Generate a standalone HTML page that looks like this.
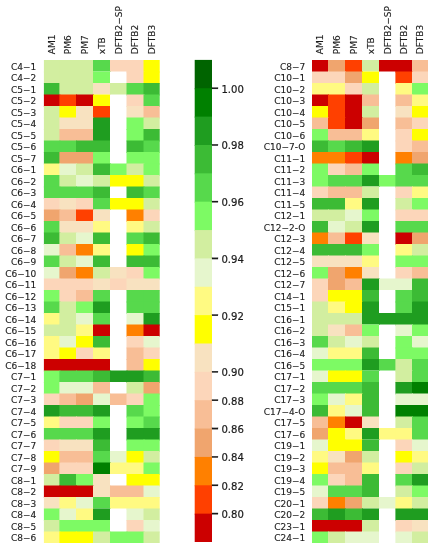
<!DOCTYPE html>
<html><head><meta charset="utf-8"><title>Heatmap</title><style>
html,body{margin:0;padding:0;background:#fff;width:434px;height:550px;overflow:hidden}
svg{display:block}
text{font-family:"DejaVu Sans","Liberation Sans",sans-serif;fill:#1a1a1a}
.t{font-size:9px;stroke:#1a1a1a;stroke-width:0.12px}
.c{font-size:11.2px;stroke:#1a1a1a;stroke-width:0.2px;font-family:"DejaVu Sans Condensed","DejaVu Sans","Liberation Sans",sans-serif;font-stretch:condensed}
</style></head><body>
<svg width="434" height="550" viewBox="0 0 434 550">
<rect width="434" height="550" fill="#fff"/>
<rect x="43.9" y="60" width="16.5" height="12.5" fill="#d2eea0"/><rect x="59.4" y="60" width="17.6" height="12.5" fill="#d2eea0"/><rect x="76" y="60" width="18" height="12.5" fill="#d2eea0"/><rect x="93" y="60" width="18" height="11.5" fill="#57d94c"/><rect x="110" y="60" width="17.5" height="11.5" fill="#fcd6ba"/><rect x="126.5" y="60" width="18" height="12.5" fill="#fcd6ba"/><rect x="143.5" y="60" width="16.2" height="12.5" fill="#ffff00"/><rect x="43.9" y="71.5" width="16.5" height="12.5" fill="#d2eea0"/><rect x="59.4" y="71.5" width="17.6" height="12.5" fill="#d2eea0"/><rect x="76" y="71.5" width="18" height="12.5" fill="#d2eea0"/><rect x="93" y="71.5" width="17" height="12.5" fill="#7dfa64"/><rect x="126.5" y="71.5" width="18" height="12.5" fill="#fcd6ba"/><rect x="143.5" y="71.5" width="16.2" height="12.5" fill="#ffff00"/><rect x="43.9" y="83" width="16.5" height="12.5" fill="#3cbb35"/><rect x="59.4" y="83" width="17.6" height="12.5" fill="#d2eea0"/><rect x="76" y="83" width="18" height="12.5" fill="#d2eea0"/><rect x="93" y="83" width="18" height="11.5" fill="#f8e2c0"/><rect x="110" y="83" width="17.5" height="11.5" fill="#d2eea0"/><rect x="126.5" y="83" width="18" height="12.5" fill="#57d94c"/><rect x="143.5" y="83" width="16.2" height="12.5" fill="#3cbb35"/><rect x="43.9" y="94.5" width="16.5" height="12.5" fill="#cc0000"/><rect x="59.4" y="94.5" width="17.6" height="12.5" fill="#ff4000"/><rect x="76" y="94.5" width="18" height="12.5" fill="#cc0000"/><rect x="93" y="94.5" width="17" height="12.5" fill="#ffff00"/><rect x="126.5" y="94.5" width="18" height="12.5" fill="#fcd6ba"/><rect x="143.5" y="94.5" width="16.2" height="12.5" fill="#57d94c"/><rect x="43.9" y="106" width="16.5" height="12.5" fill="#d2eea0"/><rect x="59.4" y="106" width="17.6" height="12.5" fill="#ffff00"/><rect x="76" y="106" width="18" height="12.5" fill="#f8e2c0"/><rect x="93" y="106" width="17" height="12.5" fill="#ff4000"/><rect x="126.5" y="106" width="18" height="12.5" fill="#f8e2c0"/><rect x="143.5" y="106" width="16.2" height="12.5" fill="#f8be96"/><rect x="43.9" y="117.5" width="16.5" height="12.5" fill="#d2eea0"/><rect x="59.4" y="117.5" width="17.6" height="12.5" fill="#f8e2c0"/><rect x="76" y="117.5" width="18" height="12.5" fill="#f8e2c0"/><rect x="93" y="117.5" width="17" height="12.5" fill="#1f9d20"/><rect x="126.5" y="117.5" width="18" height="12.5" fill="#7dfa64"/><rect x="143.5" y="117.5" width="16.2" height="12.5" fill="#d2eea0"/><rect x="43.9" y="129" width="16.5" height="12.5" fill="#d2eea0"/><rect x="59.4" y="129" width="17.6" height="12.5" fill="#f8be96"/><rect x="76" y="129" width="18" height="12.5" fill="#f8be96"/><rect x="93" y="129" width="17" height="12.5" fill="#1f9d20"/><rect x="126.5" y="129" width="18" height="12.5" fill="#7dfa64"/><rect x="143.5" y="129" width="16.2" height="12.5" fill="#3cbb35"/><rect x="43.9" y="140.5" width="16.5" height="12.5" fill="#57d94c"/><rect x="59.4" y="140.5" width="17.6" height="12.5" fill="#57d94c"/><rect x="76" y="140.5" width="18" height="12.5" fill="#3cbb35"/><rect x="93" y="140.5" width="17" height="12.5" fill="#3cbb35"/><rect x="126.5" y="140.5" width="18" height="12.5" fill="#3cbb35"/><rect x="143.5" y="140.5" width="16.2" height="12.5" fill="#57d94c"/><rect x="43.9" y="152" width="16.5" height="12.5" fill="#3cbb35"/><rect x="59.4" y="152" width="17.6" height="12.5" fill="#f0a56e"/><rect x="76" y="152" width="18" height="12.5" fill="#f0a56e"/><rect x="93" y="152" width="17" height="12.5" fill="#7dfa64"/><rect x="126.5" y="152" width="18" height="12.5" fill="#7dfa64"/><rect x="143.5" y="152" width="16.2" height="12.5" fill="#7dfa64"/><rect x="43.9" y="163.5" width="16.5" height="12.5" fill="#fffa82"/><rect x="59.4" y="163.5" width="17.6" height="12.5" fill="#e6f6cd"/><rect x="76" y="163.5" width="18" height="12.5" fill="#d2eea0"/><rect x="93" y="163.5" width="18" height="12.5" fill="#3cbb35"/><rect x="110" y="163.5" width="17.5" height="12.5" fill="#7dfa64"/><rect x="126.5" y="163.5" width="18" height="12.5" fill="#d2eea0"/><rect x="143.5" y="163.5" width="16.2" height="12.5" fill="#7dfa64"/><rect x="43.9" y="175" width="16.5" height="12.5" fill="#57d94c"/><rect x="59.4" y="175" width="17.6" height="12.5" fill="#d2eea0"/><rect x="76" y="175" width="18" height="12.5" fill="#e6f6cd"/><rect x="93" y="175" width="18" height="11.5" fill="#d2eea0"/><rect x="110" y="175" width="17.5" height="11.5" fill="#ffff00"/><rect x="126.5" y="175" width="18" height="12.5" fill="#ffff00"/><rect x="143.5" y="175" width="16.2" height="12.5" fill="#d2eea0"/><rect x="43.9" y="186.5" width="16.5" height="12.5" fill="#57d94c"/><rect x="59.4" y="186.5" width="17.6" height="12.5" fill="#57d94c"/><rect x="76" y="186.5" width="18" height="12.5" fill="#57d94c"/><rect x="93" y="186.5" width="17" height="12.5" fill="#3cbb35"/><rect x="126.5" y="186.5" width="18" height="12.5" fill="#3cbb35"/><rect x="143.5" y="186.5" width="16.2" height="12.5" fill="#57d94c"/><rect x="43.9" y="198" width="16.5" height="12.5" fill="#fcd6ba"/><rect x="59.4" y="198" width="17.6" height="12.5" fill="#f8e2c0"/><rect x="76" y="198" width="18" height="12.5" fill="#fcd6ba"/><rect x="93" y="198" width="18" height="11.5" fill="#57d94c"/><rect x="110" y="198" width="17.5" height="11.5" fill="#ffff00"/><rect x="126.5" y="198" width="18" height="12.5" fill="#ffff00"/><rect x="143.5" y="198" width="16.2" height="12.5" fill="#d2eea0"/><rect x="43.9" y="209.5" width="16.5" height="12.5" fill="#f0a56e"/><rect x="59.4" y="209.5" width="17.6" height="12.5" fill="#f8be96"/><rect x="76" y="209.5" width="18" height="12.5" fill="#ff4000"/><rect x="93" y="209.5" width="17" height="12.5" fill="#f8e2c0"/><rect x="126.5" y="209.5" width="18" height="12.5" fill="#ff8000"/><rect x="143.5" y="209.5" width="16.2" height="12.5" fill="#fcd6ba"/><rect x="43.9" y="221" width="16.5" height="12.5" fill="#57d94c"/><rect x="59.4" y="221" width="17.6" height="12.5" fill="#f8e2c0"/><rect x="76" y="221" width="18" height="12.5" fill="#f8e2c0"/><rect x="93" y="221" width="17" height="12.5" fill="#fffa82"/><rect x="126.5" y="221" width="18" height="12.5" fill="#fffa82"/><rect x="143.5" y="221" width="16.2" height="12.5" fill="#d2eea0"/><rect x="43.9" y="232.5" width="16.5" height="12.5" fill="#3cbb35"/><rect x="59.4" y="232.5" width="17.6" height="12.5" fill="#d2eea0"/><rect x="76" y="232.5" width="18" height="12.5" fill="#e6f6cd"/><rect x="93" y="232.5" width="17" height="12.5" fill="#3cbb35"/><rect x="126.5" y="232.5" width="18" height="12.5" fill="#57d94c"/><rect x="143.5" y="232.5" width="16.2" height="12.5" fill="#3cbb35"/><rect x="43.9" y="244" width="16.5" height="12.5" fill="#e6f6cd"/><rect x="59.4" y="244" width="17.6" height="12.5" fill="#f8be96"/><rect x="76" y="244" width="18" height="12.5" fill="#ff8000"/><rect x="93" y="244" width="17" height="12.5" fill="#fffa82"/><rect x="126.5" y="244" width="18" height="12.5" fill="#ffff00"/><rect x="143.5" y="244" width="16.2" height="12.5" fill="#7dfa64"/><rect x="43.9" y="255.5" width="16.5" height="12.5" fill="#57d94c"/><rect x="59.4" y="255.5" width="17.6" height="12.5" fill="#d2eea0"/><rect x="76" y="255.5" width="18" height="12.5" fill="#e6f6cd"/><rect x="93" y="255.5" width="17" height="12.5" fill="#3cbb35"/><rect x="126.5" y="255.5" width="18" height="12.5" fill="#3cbb35"/><rect x="143.5" y="255.5" width="16.2" height="12.5" fill="#3cbb35"/><rect x="43.9" y="267" width="16.5" height="12.5" fill="#e6f6cd"/><rect x="59.4" y="267" width="17.6" height="12.5" fill="#f0a56e"/><rect x="76" y="267" width="18" height="12.5" fill="#ff8000"/><rect x="93" y="267" width="18" height="12.5" fill="#d2eea0"/><rect x="110" y="267" width="17.5" height="12.5" fill="#f8e2c0"/><rect x="126.5" y="267" width="18" height="12.5" fill="#fcd6ba"/><rect x="143.5" y="267" width="16.2" height="12.5" fill="#7dfa64"/><rect x="43.9" y="278.5" width="16.5" height="12.5" fill="#fcd6ba"/><rect x="59.4" y="278.5" width="17.6" height="12.5" fill="#fcd6ba"/><rect x="76" y="278.5" width="18" height="12.5" fill="#fcd6ba"/><rect x="93" y="278.5" width="18" height="11.5" fill="#f8e2c0"/><rect x="110" y="278.5" width="17.5" height="11.5" fill="#fcd6ba"/><rect x="126.5" y="278.5" width="18" height="12.5" fill="#f8e2c0"/><rect x="143.5" y="278.5" width="16.2" height="12.5" fill="#f8e2c0"/><rect x="43.9" y="290" width="16.5" height="12.5" fill="#7dfa64"/><rect x="59.4" y="290" width="17.6" height="12.5" fill="#fcd6ba"/><rect x="76" y="290" width="18" height="12.5" fill="#f8be96"/><rect x="93" y="290" width="17" height="12.5" fill="#57d94c"/><rect x="126.5" y="290" width="18" height="12.5" fill="#57d94c"/><rect x="143.5" y="290" width="16.2" height="12.5" fill="#57d94c"/><rect x="43.9" y="301.5" width="16.5" height="12.5" fill="#57d94c"/><rect x="59.4" y="301.5" width="17.6" height="12.5" fill="#d2eea0"/><rect x="76" y="301.5" width="18" height="12.5" fill="#7dfa64"/><rect x="93" y="301.5" width="17" height="12.5" fill="#1f9d20"/><rect x="126.5" y="301.5" width="18" height="12.5" fill="#57d94c"/><rect x="143.5" y="301.5" width="16.2" height="12.5" fill="#57d94c"/><rect x="43.9" y="313" width="16.5" height="12.5" fill="#fffa82"/><rect x="59.4" y="313" width="17.6" height="12.5" fill="#d2eea0"/><rect x="76" y="313" width="18" height="12.5" fill="#e6f6cd"/><rect x="93" y="313" width="17" height="12.5" fill="#57d94c"/><rect x="126.5" y="313" width="18" height="12.5" fill="#e6f6cd"/><rect x="143.5" y="313" width="16.2" height="12.5" fill="#1f9d20"/><rect x="43.9" y="324.5" width="16.5" height="12.5" fill="#d2eea0"/><rect x="59.4" y="324.5" width="17.6" height="12.5" fill="#d2eea0"/><rect x="76" y="324.5" width="18" height="12.5" fill="#fffa82"/><rect x="93" y="324.5" width="17" height="12.5" fill="#cc0000"/><rect x="126.5" y="324.5" width="18" height="12.5" fill="#ff8000"/><rect x="143.5" y="324.5" width="16.2" height="12.5" fill="#cc0000"/><rect x="43.9" y="336" width="16.5" height="12.5" fill="#fffa82"/><rect x="59.4" y="336" width="17.6" height="12.5" fill="#e6f6cd"/><rect x="76" y="336" width="18" height="12.5" fill="#ffff00"/><rect x="93" y="336" width="17" height="12.5" fill="#3cbb35"/><rect x="126.5" y="336" width="18" height="12.5" fill="#fcd6ba"/><rect x="143.5" y="336" width="16.2" height="12.5" fill="#e6f6cd"/><rect x="43.9" y="347.5" width="16.5" height="12.5" fill="#fffa82"/><rect x="59.4" y="347.5" width="17.6" height="12.5" fill="#ffff00"/><rect x="76" y="347.5" width="18" height="12.5" fill="#fcd6ba"/><rect x="93" y="347.5" width="17" height="12.5" fill="#fffa82"/><rect x="126.5" y="347.5" width="18" height="12.5" fill="#f8be96"/><rect x="143.5" y="347.5" width="16.2" height="12.5" fill="#fcd6ba"/><rect x="43.9" y="359" width="16.5" height="12.5" fill="#cc0000"/><rect x="59.4" y="359" width="17.6" height="12.5" fill="#cc0000"/><rect x="76" y="359" width="18" height="12.5" fill="#cc0000"/><rect x="93" y="359" width="17" height="12.5" fill="#cc0000"/><rect x="126.5" y="359" width="18" height="12.5" fill="#f8be96"/><rect x="143.5" y="359" width="16.2" height="12.5" fill="#ffff00"/><rect x="43.9" y="370.5" width="16.5" height="12.5" fill="#7dfa64"/><rect x="59.4" y="370.5" width="17.6" height="12.5" fill="#57d94c"/><rect x="76" y="370.5" width="18" height="12.5" fill="#57d94c"/><rect x="93" y="370.5" width="18" height="11.5" fill="#3cbb35"/><rect x="110" y="370.5" width="17.5" height="11.5" fill="#1f9d20"/><rect x="126.5" y="370.5" width="18" height="12.5" fill="#1f9d20"/><rect x="143.5" y="370.5" width="16.2" height="12.5" fill="#3cbb35"/><rect x="43.9" y="382" width="16.5" height="12.5" fill="#7dfa64"/><rect x="59.4" y="382" width="17.6" height="12.5" fill="#e6f6cd"/><rect x="76" y="382" width="18" height="12.5" fill="#e6f6cd"/><rect x="93" y="382" width="17" height="12.5" fill="#f8be96"/><rect x="126.5" y="382" width="18" height="12.5" fill="#d2eea0"/><rect x="143.5" y="382" width="16.2" height="12.5" fill="#f0a56e"/><rect x="43.9" y="393.5" width="16.5" height="12.5" fill="#fcd6ba"/><rect x="59.4" y="393.5" width="17.6" height="12.5" fill="#f8be96"/><rect x="76" y="393.5" width="18" height="12.5" fill="#f0a56e"/><rect x="93" y="393.5" width="18" height="11.5" fill="#e6f6cd"/><rect x="110" y="393.5" width="17.5" height="11.5" fill="#f8be96"/><rect x="126.5" y="393.5" width="18" height="12.5" fill="#fcd6ba"/><rect x="143.5" y="393.5" width="16.2" height="12.5" fill="#7dfa64"/><rect x="43.9" y="405" width="16.5" height="12.5" fill="#1f9d20"/><rect x="59.4" y="405" width="17.6" height="12.5" fill="#3cbb35"/><rect x="76" y="405" width="18" height="12.5" fill="#3cbb35"/><rect x="93" y="405" width="17" height="12.5" fill="#1f9d20"/><rect x="126.5" y="405" width="18" height="12.5" fill="#57d94c"/><rect x="143.5" y="405" width="16.2" height="12.5" fill="#7dfa64"/><rect x="43.9" y="416.5" width="16.5" height="12.5" fill="#fffa82"/><rect x="59.4" y="416.5" width="17.6" height="12.5" fill="#fcd6ba"/><rect x="76" y="416.5" width="18" height="12.5" fill="#fcd6ba"/><rect x="93" y="416.5" width="17" height="12.5" fill="#7dfa64"/><rect x="126.5" y="416.5" width="18" height="12.5" fill="#7dfa64"/><rect x="143.5" y="416.5" width="16.2" height="12.5" fill="#57d94c"/><rect x="43.9" y="428" width="16.5" height="12.5" fill="#57d94c"/><rect x="59.4" y="428" width="17.6" height="12.5" fill="#57d94c"/><rect x="76" y="428" width="18" height="12.5" fill="#57d94c"/><rect x="93" y="428" width="17" height="12.5" fill="#1f9d20"/><rect x="126.5" y="428" width="18" height="12.5" fill="#1f9d20"/><rect x="143.5" y="428" width="16.2" height="12.5" fill="#1f9d20"/><rect x="43.9" y="439.5" width="16.5" height="12.5" fill="#fcd6ba"/><rect x="59.4" y="439.5" width="17.6" height="12.5" fill="#f8e2c0"/><rect x="76" y="439.5" width="18" height="12.5" fill="#f8e2c0"/><rect x="93" y="439.5" width="17" height="12.5" fill="#3cbb35"/><rect x="126.5" y="439.5" width="18" height="12.5" fill="#7dfa64"/><rect x="143.5" y="439.5" width="16.2" height="12.5" fill="#7dfa64"/><rect x="43.9" y="451" width="16.5" height="12.5" fill="#ffff00"/><rect x="59.4" y="451" width="17.6" height="12.5" fill="#f8be96"/><rect x="76" y="451" width="18" height="12.5" fill="#f8be96"/><rect x="93" y="451" width="18" height="12.5" fill="#57d94c"/><rect x="110" y="451" width="17.5" height="12.5" fill="#e6f6cd"/><rect x="126.5" y="451" width="18" height="12.5" fill="#ffff00"/><rect x="143.5" y="451" width="16.2" height="12.5" fill="#d2eea0"/><rect x="43.9" y="462.5" width="16.5" height="12.5" fill="#f0a56e"/><rect x="59.4" y="462.5" width="17.6" height="12.5" fill="#fcd6ba"/><rect x="76" y="462.5" width="18" height="12.5" fill="#fcd6ba"/><rect x="93" y="462.5" width="18" height="11.5" fill="#008000"/><rect x="110" y="462.5" width="17.5" height="11.5" fill="#fffa82"/><rect x="126.5" y="462.5" width="18" height="12.5" fill="#fffa82"/><rect x="143.5" y="462.5" width="16.2" height="12.5" fill="#7dfa64"/><rect x="43.9" y="474" width="16.5" height="12.5" fill="#d2eea0"/><rect x="59.4" y="474" width="17.6" height="12.5" fill="#3cbb35"/><rect x="76" y="474" width="18" height="12.5" fill="#7dfa64"/><rect x="93" y="474" width="17" height="12.5" fill="#f8e2c0"/><rect x="126.5" y="474" width="18" height="12.5" fill="#ffff00"/><rect x="143.5" y="474" width="16.2" height="12.5" fill="#ffff00"/><rect x="43.9" y="485.5" width="16.5" height="12.5" fill="#cc0000"/><rect x="59.4" y="485.5" width="17.6" height="12.5" fill="#cc0000"/><rect x="76" y="485.5" width="18" height="12.5" fill="#cc0000"/><rect x="93" y="485.5" width="18" height="12.5" fill="#f8e2c0"/><rect x="110" y="485.5" width="17.5" height="12.5" fill="#f8be96"/><rect x="126.5" y="485.5" width="18" height="12.5" fill="#f8be96"/><rect x="143.5" y="485.5" width="16.2" height="12.5" fill="#e6f6cd"/><rect x="43.9" y="497" width="16.5" height="12.5" fill="#f8e2c0"/><rect x="59.4" y="497" width="17.6" height="12.5" fill="#fffa82"/><rect x="76" y="497" width="18" height="12.5" fill="#e6f6cd"/><rect x="93" y="497" width="18" height="11.5" fill="#57d94c"/><rect x="110" y="497" width="17.5" height="11.5" fill="#fffa82"/><rect x="126.5" y="497" width="18" height="12.5" fill="#fffa82"/><rect x="143.5" y="497" width="16.2" height="12.5" fill="#fffa82"/><rect x="43.9" y="508.5" width="16.5" height="12.5" fill="#7dfa64"/><rect x="59.4" y="508.5" width="17.6" height="12.5" fill="#e6f6cd"/><rect x="76" y="508.5" width="18" height="12.5" fill="#fffa82"/><rect x="93" y="508.5" width="17" height="12.5" fill="#1f9d20"/><rect x="126.5" y="508.5" width="18" height="12.5" fill="#e6f6cd"/><rect x="143.5" y="508.5" width="16.2" height="12.5" fill="#d2eea0"/><rect x="43.9" y="520" width="16.5" height="12.5" fill="#d2eea0"/><rect x="59.4" y="520" width="17.6" height="12.5" fill="#7dfa64"/><rect x="76" y="520" width="18" height="12.5" fill="#7dfa64"/><rect x="93" y="520" width="17" height="12.5" fill="#7dfa64"/><rect x="126.5" y="520" width="18" height="12.5" fill="#fcd6ba"/><rect x="143.5" y="520" width="16.2" height="12.5" fill="#e6f6cd"/><rect x="43.9" y="531.5" width="16.5" height="11.5" fill="#fffa82"/><rect x="59.4" y="531.5" width="17.6" height="11.5" fill="#ffff00"/><rect x="76" y="531.5" width="18" height="11.5" fill="#ffff00"/><rect x="93" y="531.5" width="18" height="11.5" fill="#d2eea0"/><rect x="110" y="531.5" width="17.5" height="11.5" fill="#7dfa64"/><rect x="126.5" y="531.5" width="18" height="11.5" fill="#7dfa64"/><rect x="143.5" y="531.5" width="16.2" height="11.5" fill="#d2eea0"/>
<g class="t" text-anchor="end"><text x="36.2" y="69.75">C4−1</text><text x="36.2" y="81.25">C4−2</text><text x="36.2" y="92.75">C5−1</text><text x="36.2" y="104.25">C5−2</text><text x="36.2" y="115.75">C5−3</text><text x="36.2" y="127.25">C5−4</text><text x="36.2" y="138.75">C5−5</text><text x="36.2" y="150.25">C5−6</text><text x="36.2" y="161.75">C5−7</text><text x="36.2" y="173.25">C6−1</text><text x="36.2" y="184.75">C6−2</text><text x="36.2" y="196.25">C6−3</text><text x="36.2" y="207.75">C6−4</text><text x="36.2" y="219.25">C6−5</text><text x="36.2" y="230.75">C6−6</text><text x="36.2" y="242.25">C6−7</text><text x="36.2" y="253.75">C6−8</text><text x="36.2" y="265.25">C6−9</text><text x="36.2" y="276.75">C6−10</text><text x="36.2" y="288.25">C6−11</text><text x="36.2" y="299.75">C6−12</text><text x="36.2" y="311.25">C6−13</text><text x="36.2" y="322.75">C6−14</text><text x="36.2" y="334.25">C6−15</text><text x="36.2" y="345.75">C6−16</text><text x="36.2" y="357.25">C6−17</text><text x="36.2" y="368.75">C6−18</text><text x="36.2" y="380.25">C7−1</text><text x="36.2" y="391.75">C7−2</text><text x="36.2" y="403.25">C7−3</text><text x="36.2" y="414.75">C7−4</text><text x="36.2" y="426.25">C7−5</text><text x="36.2" y="437.75">C7−6</text><text x="36.2" y="449.25">C7−7</text><text x="36.2" y="460.75">C7−8</text><text x="36.2" y="472.25">C7−9</text><text x="36.2" y="483.75">C8−1</text><text x="36.2" y="495.25">C8−2</text><text x="36.2" y="506.75">C8−3</text><text x="36.2" y="518.25">C8−4</text><text x="36.2" y="529.75">C8−5</text><text x="36.2" y="541.25">C8−6</text></g>
<g class="t"><text transform="translate(54.95 54.2) rotate(-90)">AM1</text><text transform="translate(71 54.2) rotate(-90)">PM6</text><text transform="translate(87.8 54.2) rotate(-90)">PM7</text><text transform="translate(104.8 54.2) rotate(-90)">xTB</text><text transform="translate(121.55 54.2) rotate(-90)">DFTB2−SP</text><text transform="translate(138.3 54.2) rotate(-90)">DFTB2</text><text transform="translate(154.9 54.2) rotate(-90)">DFTB3</text></g>
<rect x="312" y="60" width="17" height="12.5" fill="#cc0000"/><rect x="328" y="60" width="18" height="12.5" fill="#f0a56e"/><rect x="345" y="60" width="18" height="12.5" fill="#ff4000"/><rect x="362" y="60" width="18" height="11.5" fill="#d2eea0"/><rect x="379" y="60" width="17.4" height="11.5" fill="#cc0000"/><rect x="395.4" y="60" width="17.6" height="12.5" fill="#cc0000"/><rect x="412" y="60" width="16" height="12.5" fill="#f8be96"/><rect x="312" y="71.5" width="17" height="12.5" fill="#fcd6ba"/><rect x="328" y="71.5" width="18" height="12.5" fill="#fcd6ba"/><rect x="345" y="71.5" width="18" height="12.5" fill="#f0a56e"/><rect x="362" y="71.5" width="17" height="12.5" fill="#ffff00"/><rect x="395.4" y="71.5" width="17.6" height="12.5" fill="#ff4000"/><rect x="412" y="71.5" width="16" height="12.5" fill="#fcd6ba"/><rect x="312" y="83" width="17" height="12.5" fill="#fffa82"/><rect x="328" y="83" width="18" height="12.5" fill="#fffa82"/><rect x="345" y="83" width="18" height="12.5" fill="#fcd6ba"/><rect x="362" y="83" width="17" height="12.5" fill="#d2eea0"/><rect x="395.4" y="83" width="17.6" height="12.5" fill="#fffa82"/><rect x="412" y="83" width="16" height="12.5" fill="#7dfa64"/><rect x="312" y="94.5" width="17" height="12.5" fill="#cc0000"/><rect x="328" y="94.5" width="18" height="12.5" fill="#ff4000"/><rect x="345" y="94.5" width="18" height="12.5" fill="#cc0000"/><rect x="362" y="94.5" width="17" height="12.5" fill="#f8be96"/><rect x="395.4" y="94.5" width="17.6" height="12.5" fill="#f8be96"/><rect x="412" y="94.5" width="16" height="12.5" fill="#fffa82"/><rect x="312" y="106" width="17" height="12.5" fill="#ffff00"/><rect x="328" y="106" width="18" height="12.5" fill="#ff4000"/><rect x="345" y="106" width="18" height="12.5" fill="#cc0000"/><rect x="362" y="106" width="17" height="12.5" fill="#d2eea0"/><rect x="395.4" y="106" width="17.6" height="12.5" fill="#f8e2c0"/><rect x="412" y="106" width="16" height="12.5" fill="#ffff00"/><rect x="312" y="117.5" width="17" height="12.5" fill="#f8be96"/><rect x="328" y="117.5" width="18" height="12.5" fill="#ff4000"/><rect x="345" y="117.5" width="18" height="12.5" fill="#cc0000"/><rect x="362" y="117.5" width="17" height="12.5" fill="#f0a56e"/><rect x="395.4" y="117.5" width="17.6" height="12.5" fill="#f8be96"/><rect x="412" y="117.5" width="16" height="12.5" fill="#fcd6ba"/><rect x="312" y="129" width="17" height="12.5" fill="#7dfa64"/><rect x="328" y="129" width="18" height="12.5" fill="#f8be96"/><rect x="345" y="129" width="18" height="12.5" fill="#f8be96"/><rect x="362" y="129" width="17" height="12.5" fill="#fffa82"/><rect x="395.4" y="129" width="17.6" height="12.5" fill="#fcd6ba"/><rect x="412" y="129" width="16" height="12.5" fill="#ffff00"/><rect x="312" y="140.5" width="17" height="12.5" fill="#3cbb35"/><rect x="328" y="140.5" width="18" height="12.5" fill="#57d94c"/><rect x="345" y="140.5" width="18" height="12.5" fill="#3cbb35"/><rect x="362" y="140.5" width="17" height="12.5" fill="#1f9d20"/><rect x="395.4" y="140.5" width="17.6" height="12.5" fill="#fcd6ba"/><rect x="412" y="140.5" width="16" height="12.5" fill="#f8be96"/><rect x="312" y="152" width="17" height="12.5" fill="#ff8000"/><rect x="328" y="152" width="18" height="12.5" fill="#ff8000"/><rect x="345" y="152" width="18" height="12.5" fill="#ff4000"/><rect x="362" y="152" width="17" height="12.5" fill="#cc0000"/><rect x="395.4" y="152" width="17.6" height="12.5" fill="#ff8000"/><rect x="412" y="152" width="16" height="12.5" fill="#f0a56e"/><rect x="312" y="163.5" width="17" height="12.5" fill="#7dfa64"/><rect x="328" y="163.5" width="18" height="12.5" fill="#fcd6ba"/><rect x="345" y="163.5" width="18" height="12.5" fill="#f8be96"/><rect x="362" y="163.5" width="17" height="12.5" fill="#7dfa64"/><rect x="395.4" y="163.5" width="17.6" height="12.5" fill="#57d94c"/><rect x="412" y="163.5" width="16" height="12.5" fill="#3cbb35"/><rect x="312" y="175" width="17" height="12.5" fill="#7dfa64"/><rect x="328" y="175" width="18" height="12.5" fill="#57d94c"/><rect x="345" y="175" width="18" height="12.5" fill="#57d94c"/><rect x="362" y="175" width="18" height="11.5" fill="#1f9d20"/><rect x="379" y="175" width="17.4" height="11.5" fill="#7dfa64"/><rect x="395.4" y="175" width="17.6" height="12.5" fill="#57d94c"/><rect x="412" y="175" width="16" height="12.5" fill="#57d94c"/><rect x="312" y="186.5" width="17" height="12.5" fill="#fcd6ba"/><rect x="328" y="186.5" width="18" height="12.5" fill="#f8be96"/><rect x="345" y="186.5" width="18" height="12.5" fill="#f8be96"/><rect x="362" y="186.5" width="17" height="12.5" fill="#d2eea0"/><rect x="395.4" y="186.5" width="17.6" height="12.5" fill="#fcd6ba"/><rect x="412" y="186.5" width="16" height="12.5" fill="#fffa82"/><rect x="312" y="198" width="17" height="12.5" fill="#3cbb35"/><rect x="328" y="198" width="18" height="12.5" fill="#3cbb35"/><rect x="345" y="198" width="18" height="12.5" fill="#fffa82"/><rect x="362" y="198" width="17" height="12.5" fill="#1f9d20"/><rect x="395.4" y="198" width="17.6" height="12.5" fill="#d2eea0"/><rect x="412" y="198" width="16" height="12.5" fill="#7dfa64"/><rect x="312" y="209.5" width="17" height="12.5" fill="#d2eea0"/><rect x="328" y="209.5" width="18" height="12.5" fill="#d2eea0"/><rect x="345" y="209.5" width="18" height="12.5" fill="#e6f6cd"/><rect x="362" y="209.5" width="17" height="12.5" fill="#7dfa64"/><rect x="395.4" y="209.5" width="17.6" height="12.5" fill="#fcd6ba"/><rect x="412" y="209.5" width="16" height="12.5" fill="#fcd6ba"/><rect x="312" y="221" width="17" height="12.5" fill="#3cbb35"/><rect x="328" y="221" width="18" height="12.5" fill="#e6f6cd"/><rect x="345" y="221" width="18" height="12.5" fill="#d2eea0"/><rect x="362" y="221" width="17" height="12.5" fill="#1f9d20"/><rect x="395.4" y="221" width="17.6" height="12.5" fill="#57d94c"/><rect x="412" y="221" width="16" height="12.5" fill="#57d94c"/><rect x="312" y="232.5" width="17" height="12.5" fill="#ff8000"/><rect x="328" y="232.5" width="18" height="12.5" fill="#f8be96"/><rect x="345" y="232.5" width="18" height="12.5" fill="#ff4000"/><rect x="362" y="232.5" width="17" height="12.5" fill="#f8e2c0"/><rect x="395.4" y="232.5" width="17.6" height="12.5" fill="#cc0000"/><rect x="412" y="232.5" width="16" height="12.5" fill="#f0a56e"/><rect x="312" y="244" width="17" height="12.5" fill="#3cbb35"/><rect x="328" y="244" width="18" height="12.5" fill="#3cbb35"/><rect x="345" y="244" width="18" height="12.5" fill="#3cbb35"/><rect x="362" y="244" width="17" height="12.5" fill="#7dfa64"/><rect x="395.4" y="244" width="17.6" height="12.5" fill="#fffa82"/><rect x="412" y="244" width="16" height="12.5" fill="#d2eea0"/><rect x="312" y="255.5" width="17" height="12.5" fill="#f8e2c0"/><rect x="328" y="255.5" width="18" height="12.5" fill="#f8e2c0"/><rect x="345" y="255.5" width="18" height="12.5" fill="#f8e2c0"/><rect x="362" y="255.5" width="17" height="12.5" fill="#fffa82"/><rect x="395.4" y="255.5" width="17.6" height="12.5" fill="#7dfa64"/><rect x="412" y="255.5" width="16" height="12.5" fill="#7dfa64"/><rect x="312" y="267" width="17" height="12.5" fill="#7dfa64"/><rect x="328" y="267" width="18" height="12.5" fill="#f0a56e"/><rect x="345" y="267" width="18" height="12.5" fill="#ff8000"/><rect x="362" y="267" width="17" height="12.5" fill="#f8e2c0"/><rect x="395.4" y="267" width="17.6" height="12.5" fill="#fcd6ba"/><rect x="412" y="267" width="16" height="12.5" fill="#f8be96"/><rect x="312" y="278.5" width="17" height="12.5" fill="#fcd6ba"/><rect x="328" y="278.5" width="18" height="12.5" fill="#f0a56e"/><rect x="345" y="278.5" width="18" height="12.5" fill="#f8be96"/><rect x="362" y="278.5" width="18" height="11.5" fill="#1f9d20"/><rect x="379" y="278.5" width="17.4" height="11.5" fill="#e6f6cd"/><rect x="395.4" y="278.5" width="17.6" height="12.5" fill="#e6f6cd"/><rect x="412" y="278.5" width="16" height="12.5" fill="#3cbb35"/><rect x="312" y="290" width="17" height="12.5" fill="#fcd6ba"/><rect x="328" y="290" width="18" height="12.5" fill="#ffff00"/><rect x="345" y="290" width="18" height="12.5" fill="#ffff00"/><rect x="362" y="290" width="17" height="12.5" fill="#3cbb35"/><rect x="395.4" y="290" width="17.6" height="12.5" fill="#57d94c"/><rect x="412" y="290" width="16" height="12.5" fill="#3cbb35"/><rect x="312" y="301.5" width="17" height="12.5" fill="#d2eea0"/><rect x="328" y="301.5" width="18" height="12.5" fill="#fffa82"/><rect x="345" y="301.5" width="18" height="12.5" fill="#ffff00"/><rect x="362" y="301.5" width="17" height="12.5" fill="#1f9d20"/><rect x="395.4" y="301.5" width="17.6" height="12.5" fill="#57d94c"/><rect x="412" y="301.5" width="16" height="12.5" fill="#1f9d20"/><rect x="312" y="313" width="17" height="12.5" fill="#d2eea0"/><rect x="328" y="313" width="18" height="12.5" fill="#d2eea0"/><rect x="345" y="313" width="18" height="12.5" fill="#d2eea0"/><rect x="362" y="313" width="18" height="11.5" fill="#1f9d20"/><rect x="379" y="313" width="17.4" height="11.5" fill="#1f9d20"/><rect x="395.4" y="313" width="17.6" height="12.5" fill="#1f9d20"/><rect x="412" y="313" width="16" height="12.5" fill="#1f9d20"/><rect x="312" y="324.5" width="17" height="12.5" fill="#d2eea0"/><rect x="328" y="324.5" width="18" height="12.5" fill="#f8e2c0"/><rect x="345" y="324.5" width="18" height="12.5" fill="#f8be96"/><rect x="362" y="324.5" width="17" height="12.5" fill="#7dfa64"/><rect x="395.4" y="324.5" width="17.6" height="12.5" fill="#e6f6cd"/><rect x="412" y="324.5" width="16" height="12.5" fill="#7dfa64"/><rect x="312" y="336" width="17" height="12.5" fill="#57d94c"/><rect x="328" y="336" width="18" height="12.5" fill="#d2eea0"/><rect x="345" y="336" width="18" height="12.5" fill="#e6f6cd"/><rect x="362" y="336" width="17" height="12.5" fill="#d2eea0"/><rect x="395.4" y="336" width="17.6" height="12.5" fill="#7dfa64"/><rect x="412" y="336" width="16" height="12.5" fill="#e6f6cd"/><rect x="312" y="347.5" width="17" height="12.5" fill="#e6f6cd"/><rect x="328" y="347.5" width="18" height="12.5" fill="#fffa82"/><rect x="345" y="347.5" width="18" height="12.5" fill="#fffa82"/><rect x="362" y="347.5" width="17" height="12.5" fill="#3cbb35"/><rect x="395.4" y="347.5" width="17.6" height="12.5" fill="#7dfa64"/><rect x="412" y="347.5" width="16" height="12.5" fill="#7dfa64"/><rect x="312" y="359" width="17" height="12.5" fill="#7dfa64"/><rect x="328" y="359" width="18" height="12.5" fill="#7dfa64"/><rect x="345" y="359" width="18" height="12.5" fill="#7dfa64"/><rect x="362" y="359" width="18" height="11.5" fill="#1f9d20"/><rect x="379" y="359" width="17.4" height="11.5" fill="#57d94c"/><rect x="395.4" y="359" width="17.6" height="12.5" fill="#d2eea0"/><rect x="412" y="359" width="16" height="12.5" fill="#57d94c"/><rect x="312" y="370.5" width="17" height="12.5" fill="#e6f6cd"/><rect x="328" y="370.5" width="18" height="12.5" fill="#ffff00"/><rect x="345" y="370.5" width="18" height="12.5" fill="#ffff00"/><rect x="362" y="370.5" width="17" height="12.5" fill="#57d94c"/><rect x="395.4" y="370.5" width="17.6" height="12.5" fill="#d2eea0"/><rect x="412" y="370.5" width="16" height="12.5" fill="#57d94c"/><rect x="312" y="382" width="17" height="12.5" fill="#57d94c"/><rect x="328" y="382" width="18" height="12.5" fill="#57d94c"/><rect x="345" y="382" width="18" height="12.5" fill="#57d94c"/><rect x="362" y="382" width="17" height="12.5" fill="#3cbb35"/><rect x="395.4" y="382" width="17.6" height="12.5" fill="#1f9d20"/><rect x="412" y="382" width="16" height="12.5" fill="#008000"/><rect x="312" y="393.5" width="17" height="12.5" fill="#7dfa64"/><rect x="328" y="393.5" width="18" height="12.5" fill="#e6f6cd"/><rect x="345" y="393.5" width="18" height="12.5" fill="#fffa82"/><rect x="362" y="393.5" width="17" height="12.5" fill="#3cbb35"/><rect x="395.4" y="393.5" width="17.6" height="12.5" fill="#e6f6cd"/><rect x="412" y="393.5" width="16" height="12.5" fill="#e6f6cd"/><rect x="312" y="405" width="17" height="12.5" fill="#3cbb35"/><rect x="328" y="405" width="18" height="12.5" fill="#fffa82"/><rect x="345" y="405" width="18" height="12.5" fill="#e6f6cd"/><rect x="362" y="405" width="17" height="12.5" fill="#3cbb35"/><rect x="395.4" y="405" width="17.6" height="12.5" fill="#008000"/><rect x="412" y="405" width="16" height="12.5" fill="#008000"/><rect x="312" y="416.5" width="17" height="12.5" fill="#f8be96"/><rect x="328" y="416.5" width="18" height="12.5" fill="#ff8000"/><rect x="345" y="416.5" width="18" height="12.5" fill="#cc0000"/><rect x="362" y="416.5" width="17" height="12.5" fill="#f8e2c0"/><rect x="395.4" y="416.5" width="17.6" height="12.5" fill="#d2eea0"/><rect x="412" y="416.5" width="16" height="12.5" fill="#57d94c"/><rect x="312" y="428" width="17" height="12.5" fill="#f0a56e"/><rect x="328" y="428" width="18" height="12.5" fill="#ffff00"/><rect x="345" y="428" width="18" height="12.5" fill="#fffa82"/><rect x="362" y="428" width="18" height="11.5" fill="#1f9d20"/><rect x="379" y="428" width="17.4" height="11.5" fill="#fffa82"/><rect x="395.4" y="428" width="17.6" height="12.5" fill="#fffa82"/><rect x="412" y="428" width="16" height="12.5" fill="#57d94c"/><rect x="312" y="439.5" width="17" height="12.5" fill="#e6f6cd"/><rect x="328" y="439.5" width="18" height="12.5" fill="#ffff00"/><rect x="345" y="439.5" width="18" height="12.5" fill="#ffff00"/><rect x="362" y="439.5" width="17" height="12.5" fill="#3cbb35"/><rect x="395.4" y="439.5" width="17.6" height="12.5" fill="#fcd6ba"/><rect x="412" y="439.5" width="16" height="12.5" fill="#e6f6cd"/><rect x="312" y="451" width="17" height="12.5" fill="#fffa82"/><rect x="328" y="451" width="18" height="12.5" fill="#f8e2c0"/><rect x="345" y="451" width="18" height="12.5" fill="#f0a56e"/><rect x="362" y="451" width="17" height="12.5" fill="#d2eea0"/><rect x="395.4" y="451" width="17.6" height="12.5" fill="#ffff00"/><rect x="412" y="451" width="16" height="12.5" fill="#fffa82"/><rect x="312" y="462.5" width="17" height="12.5" fill="#ffff00"/><rect x="328" y="462.5" width="18" height="12.5" fill="#f8be96"/><rect x="345" y="462.5" width="18" height="12.5" fill="#f8be96"/><rect x="362" y="462.5" width="17" height="12.5" fill="#fffa82"/><rect x="395.4" y="462.5" width="17.6" height="12.5" fill="#fcd6ba"/><rect x="412" y="462.5" width="16" height="12.5" fill="#d2eea0"/><rect x="312" y="474" width="17" height="12.5" fill="#7dfa64"/><rect x="328" y="474" width="18" height="12.5" fill="#fcd6ba"/><rect x="345" y="474" width="18" height="12.5" fill="#f8be96"/><rect x="362" y="474" width="17" height="12.5" fill="#3cbb35"/><rect x="395.4" y="474" width="17.6" height="12.5" fill="#57d94c"/><rect x="412" y="474" width="16" height="12.5" fill="#1f9d20"/><rect x="312" y="485.5" width="17" height="12.5" fill="#e6f6cd"/><rect x="328" y="485.5" width="18" height="12.5" fill="#57d94c"/><rect x="345" y="485.5" width="18" height="12.5" fill="#57d94c"/><rect x="362" y="485.5" width="17" height="12.5" fill="#3cbb35"/><rect x="395.4" y="485.5" width="17.6" height="12.5" fill="#d2eea0"/><rect x="412" y="485.5" width="16" height="12.5" fill="#7dfa64"/><rect x="312" y="497" width="17" height="12.5" fill="#fcd6ba"/><rect x="328" y="497" width="18" height="12.5" fill="#ff8000"/><rect x="345" y="497" width="18" height="12.5" fill="#f0a56e"/><rect x="362" y="497" width="18" height="11.5" fill="#d2eea0"/><rect x="379" y="497" width="17.4" height="11.5" fill="#e6f6cd"/><rect x="395.4" y="497" width="17.6" height="12.5" fill="#fffa82"/><rect x="412" y="497" width="16" height="12.5" fill="#d2eea0"/><rect x="312" y="508.5" width="17" height="12.5" fill="#3cbb35"/><rect x="328" y="508.5" width="18" height="12.5" fill="#1f9d20"/><rect x="345" y="508.5" width="18" height="12.5" fill="#3cbb35"/><rect x="362" y="508.5" width="17" height="12.5" fill="#1f9d20"/><rect x="395.4" y="508.5" width="17.6" height="12.5" fill="#1f9d20"/><rect x="412" y="508.5" width="16" height="12.5" fill="#1f9d20"/><rect x="312" y="520" width="17" height="12.5" fill="#cc0000"/><rect x="328" y="520" width="18" height="12.5" fill="#cc0000"/><rect x="345" y="520" width="18" height="12.5" fill="#cc0000"/><rect x="362" y="520" width="17" height="12.5" fill="#d2eea0"/><rect x="395.4" y="520" width="17.6" height="12.5" fill="#fcd6ba"/><rect x="412" y="520" width="16" height="12.5" fill="#f8e2c0"/><rect x="312" y="531.5" width="17" height="11.5" fill="#7dfa64"/><rect x="328" y="531.5" width="18" height="11.5" fill="#d2eea0"/><rect x="345" y="531.5" width="18" height="11.5" fill="#e6f6cd"/><rect x="362" y="531.5" width="17" height="11.5" fill="#e6f6cd"/><rect x="395.4" y="531.5" width="17.6" height="11.5" fill="#e6f6cd"/><rect x="412" y="531.5" width="16" height="11.5" fill="#d2eea0"/>
<g class="t" text-anchor="end"><text x="305.3" y="69.75">C8−7</text><text x="305.3" y="81.25">C10−1</text><text x="305.3" y="92.75">C10−2</text><text x="305.3" y="104.25">C10−3</text><text x="305.3" y="115.75">C10−4</text><text x="305.3" y="127.25">C10−5</text><text x="305.3" y="138.75">C10−6</text><text x="305.3" y="150.25">C10−7-O</text><text x="305.3" y="161.75">C11−1</text><text x="305.3" y="173.25">C11−2</text><text x="305.3" y="184.75">C11−3</text><text x="305.3" y="196.25">C11−4</text><text x="305.3" y="207.75">C11−5</text><text x="305.3" y="219.25">C12−1</text><text x="305.3" y="230.75">C12−2-O</text><text x="305.3" y="242.25">C12−3</text><text x="305.3" y="253.75">C12−4</text><text x="305.3" y="265.25">C12−5</text><text x="305.3" y="276.75">C12−6</text><text x="305.3" y="288.25">C12−7</text><text x="305.3" y="299.75">C14−1</text><text x="305.3" y="311.25">C15−1</text><text x="305.3" y="322.75">C16−1</text><text x="305.3" y="334.25">C16−2</text><text x="305.3" y="345.75">C16−3</text><text x="305.3" y="357.25">C16−4</text><text x="305.3" y="368.75">C16−5</text><text x="305.3" y="380.25">C17−1</text><text x="305.3" y="391.75">C17−2</text><text x="305.3" y="403.25">C17−3</text><text x="305.3" y="414.75">C17−4-O</text><text x="305.3" y="426.25">C17−5</text><text x="305.3" y="437.75">C17−6</text><text x="305.3" y="449.25">C19−1</text><text x="305.3" y="460.75">C19−2</text><text x="305.3" y="472.25">C19−3</text><text x="305.3" y="483.75">C19−4</text><text x="305.3" y="495.25">C19−5</text><text x="305.3" y="506.75">C20−1</text><text x="305.3" y="518.25">C20−2</text><text x="305.3" y="529.75">C23−1</text><text x="305.3" y="541.25">C24−1</text></g>
<g class="t"><text transform="translate(323.3 54.2) rotate(-90)">AM1</text><text transform="translate(339.8 54.2) rotate(-90)">PM6</text><text transform="translate(356.8 54.2) rotate(-90)">PM7</text><text transform="translate(373.8 54.2) rotate(-90)">xTB</text><text transform="translate(390.5 54.2) rotate(-90)">DFTB2−SP</text><text transform="translate(407 54.2) rotate(-90)">DFTB2</text><text transform="translate(423.3 54.2) rotate(-90)">DFTB3</text></g>
<rect x="194.7" y="59.9" width="17.3" height="29.36" fill="#006400"/><rect x="194.7" y="88.26" width="17.3" height="29.36" fill="#008000"/><rect x="194.7" y="116.62" width="17.3" height="29.36" fill="#1f9d20"/><rect x="194.7" y="144.98" width="17.3" height="29.36" fill="#3cbb35"/><rect x="194.7" y="173.34" width="17.3" height="29.36" fill="#57d94c"/><rect x="194.7" y="201.69" width="17.3" height="29.36" fill="#7dfa64"/><rect x="194.7" y="230.05" width="17.3" height="29.36" fill="#d2eea0"/><rect x="194.7" y="258.41" width="17.3" height="29.36" fill="#e6f6cd"/><rect x="194.7" y="286.77" width="17.3" height="29.36" fill="#fffa82"/><rect x="194.7" y="315.13" width="17.3" height="29.36" fill="#ffff00"/><rect x="194.7" y="343.49" width="17.3" height="29.36" fill="#f8e2c0"/><rect x="194.7" y="371.85" width="17.3" height="29.36" fill="#fcd6ba"/><rect x="194.7" y="400.21" width="17.3" height="29.36" fill="#f8be96"/><rect x="194.7" y="428.56" width="17.3" height="29.36" fill="#f0a56e"/><rect x="194.7" y="456.92" width="17.3" height="29.36" fill="#ff8000"/><rect x="194.7" y="485.28" width="17.3" height="29.36" fill="#ff4000"/><rect x="194.7" y="513.64" width="17.3" height="28.36" fill="#cc0000"/>
<g class="c"><rect x="212" y="87.56" width="6" height="1.4" fill="#1a1a1a"/><text x="221.4" y="92.76">1.00</text><rect x="212" y="144.28" width="6" height="1.4" fill="#1a1a1a"/><text x="221.4" y="149.48">0.98</text><rect x="212" y="200.99" width="6" height="1.4" fill="#1a1a1a"/><text x="221.4" y="206.19">0.96</text><rect x="212" y="257.71" width="6" height="1.4" fill="#1a1a1a"/><text x="221.4" y="262.91">0.94</text><rect x="212" y="314.43" width="6" height="1.4" fill="#1a1a1a"/><text x="221.4" y="319.63">0.92</text><rect x="212" y="371.15" width="6" height="1.4" fill="#1a1a1a"/><text x="221.4" y="376.35">0.90</text><rect x="212" y="399.51" width="6" height="1.4" fill="#1a1a1a"/><text x="221.4" y="404.71">0.88</text><rect x="212" y="427.86" width="6" height="1.4" fill="#1a1a1a"/><text x="221.4" y="433.06">0.86</text><rect x="212" y="456.22" width="6" height="1.4" fill="#1a1a1a"/><text x="221.4" y="461.42">0.84</text><rect x="212" y="484.58" width="6" height="1.4" fill="#1a1a1a"/><text x="221.4" y="489.78">0.82</text><rect x="212" y="512.94" width="6" height="1.4" fill="#1a1a1a"/><text x="221.4" y="518.14">0.80</text></g>
</svg>
</body></html>
